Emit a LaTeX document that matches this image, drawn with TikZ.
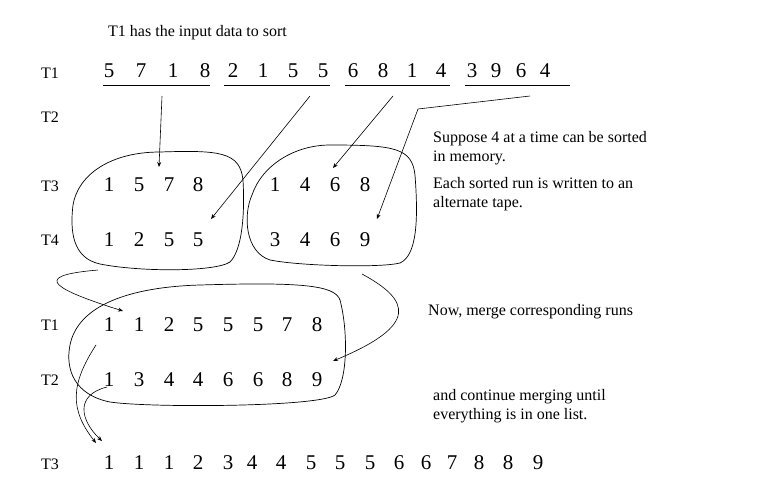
\documentclass[tikz,border=0pt]{standalone}
\usepackage{fontspec}
\setmainfont{Liberation Serif}
\usetikzlibrary{arrows.meta}
\begin{document}
\begin{tikzpicture}[x=1pt,y=-1pt,
  lab/.style={font=\fontsize{16}{16}\selectfont},
  dig/.style={font=\fontsize{21}{21}\selectfont,inner sep=0pt},
  txt/.style={font=\fontsize{16}{19}\selectfont,anchor=west,align=left,inner sep=0pt},
  blob/.style={line width=0.7pt},
  arr/.style={line width=0.6pt,-{Stealth[length=5pt,width=4pt]}}]
\useasboundingbox (0,0) rectangle (771,501);
% labels
\foreach \n/\t/\y in {a/T1/73,b/T2/117,c/T3/186,d/T4/240,e/T1/325,f/T2/380,g/T3/464}
  \node[lab] (L\n) at (50,\y) {\t};
\node[txt] (title) at (108,33) {T1 has the input data to sort};
% row T1
\foreach \d/\x [count=\i] in {5/109,7/141,1/173,8/205,2/233,1/263,5/293,5/323,6/353,8/383,1/412,4/441,3/472,9/496,6/521,4/545}
  \node[dig] (r1d\i) at (\x,71) {\d};
\foreach \a/\b in {103/210,224/330,345/450,465/570} \draw[line width=0.6pt] (\a,85) -- (\b,85);
% T3 / T4
\foreach \d/\x [count=\i] in {1/109,5/139,7/169,8/198} \node[dig] (c\i) at (\x,185) {\d};
\foreach \d/\x [count=\i] in {1/109,2/139,5/169,5/198} \node[dig] (d\i) at (\x,240) {\d};
\foreach \d/\x [count=\i] in {1/275,4/305,6/335,8/365} \node[dig] (cc\i) at (\x,185) {\d};
\foreach \d/\x [count=\i] in {3/275,4/305,6/335,9/365} \node[dig] (dd\i) at (\x,240) {\d};
% merged
\foreach \d/\x [count=\i] in {1/109,1/139,2/169,5/198,5/228,5/258,7/287,8/317} \node[dig] (e\i) at (\x,325) {\d};
\foreach \d/\x [count=\i] in {1/109,3/139,4/169,4/198,6/228,6/258,8/287,9/317} \node[dig] (f\i) at (\x,380) {\d};
\foreach \d/\x [count=\i] in {1/109,1/139,1/169,2/198,3/228,4/252,4/281,5/311,5/340,5/370,6/399,6/426,7/452,8/479,8/508,9/538}
  \node[dig] (g\i) at (\x,463) {\d};
% blobs
\draw[blob] (160,152) .. controls (220,150) and (240,152) .. (243,180)
  .. controls (245,215) and (242,250) .. (230,262)
  .. controls (215,272) and (140,272) .. (100,264)
  .. controls (72,258) and (70,230) .. (73,205)
  .. controls (78,175) and (110,152) .. (160,152) -- cycle;
\draw[blob] (330,145) .. controls (395,145) and (412,148) .. (415,175)
  .. controls (418,215) and (418,255) .. (400,263)
  .. controls (380,268) and (300,266) .. (270,260)
  .. controls (245,252) and (243,215) .. (252,195)
  .. controls (262,165) and (295,145) .. (330,145) -- cycle;
\draw[blob] (200,285) .. controls (300,282) and (335,285) .. (340,300)
  .. controls (348,330) and (348,380) .. (335,395)
  .. controls (320,407) and (150,408) .. (110,402)
  .. controls (75,395) and (65,370) .. (70,345)
  .. controls (78,305) and (130,287) .. (200,285) -- cycle;
% arrows
\coordinate (s1) at (162,96); \coordinate (s2) at (310,96);
\coordinate (s3) at (393,96); \coordinate (s4) at (530,96);
\coordinate (k4) at (418,109);
\draw[arr] (s1) -- (159,167);
\draw[arr] (s2) -- (211,219);
\draw[arr] (s3) -- (333,168);
\draw[arr] (s4) -- (k4) -- (377,219);
\coordinate (b1) at (98,270); \coordinate (b2) at (362,274);
\coordinate (b3) at (96,345); \coordinate (b4) at (107,387);
\draw[arr] (b1) .. controls (40,275) and (40,285) .. (123,311);
\draw[arr] (b2) .. controls (410,300) and (420,325) .. (333,361);
\draw[arr] (b3) .. controls (70,385) and (70,410) .. (96,443);
\draw[arr] (b4) .. controls (75,395) and (80,420) .. (102,441);
% texts
\node[txt] (t1) at (433,148) {Suppose 4 at a time can be sorted\\in memory.};
\node[txt] (t2) at (433,194) {Each sorted run is written to an\\alternate tape.};
\node[txt] (t3) at (428,312) {Now, merge corresponding runs};
\node[txt] (t4) at (433,406) {and continue merging until\\everything is in one list.};
\end{tikzpicture}
\end{document}
